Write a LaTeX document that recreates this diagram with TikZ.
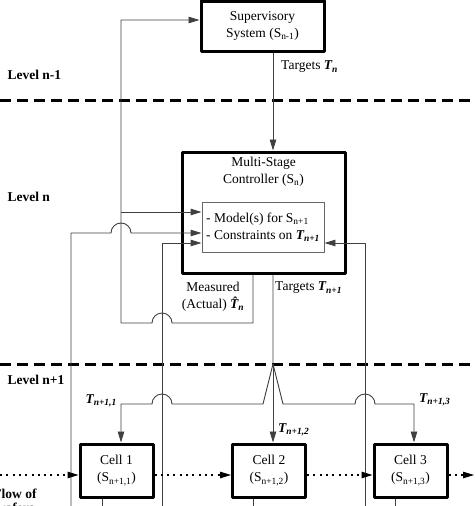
\documentclass[tikz,border=0pt]{standalone}
\usepackage{fontspec}
\setmainfont{Liberation Serif}
\usetikzlibrary{arrows.meta}
\newcommand{\Tb}[1]{\textbf{\textit{T\textsubscript{#1}}}}
\begin{document}
\begin{tikzpicture}[x=1pt, y=-1pt, line join=round, font=\fontsize{13.5}{17}\selectfont,
	blk/.style={draw, line width=3pt, inner sep=0pt, align=center},
	inbox/.style={draw=black!60, line width=0.9pt, inner sep=0pt, align=left},
	wire/.style={draw=black!75, line width=0.9pt},
	arr/.style={wire, -{Triangle[length=11pt,width=6.5pt]}},
	flow/.style={line width=1.1pt, dash pattern=on 2pt off 4.3pt, -{Triangle[length=11pt,width=6.5pt]}},
	lvl/.style={line width=3pt, dash pattern=on 11pt off 6pt},
	lab/.style={font=\fontsize{13.5}{17}\selectfont\bfseries, anchor=west}]
	\useasboundingbox (0,0) rectangle (474,506);
	\clip (0,0) rectangle (474,506);
	% Các mức
	\draw[lvl] (0,100) -- (474,100);
	\draw[lvl] (0,364) -- (474,364);
	\node[lab] (lvlA) at (4,75) {Level n-1};
	\node[lab] (lvlB) at (4,197) {Level n};
	\node[lab] (lvlC) at (4,380) {Level n+1};
	
	% Các khối
	\node[blk, minimum width=123pt, minimum height=50pt] (sup) at (262.5,26) {Supervisory\\System (S\textsubscript{n-1})};
	\node[blk, minimum width=163pt, minimum height=121pt] (ctrl) at (263.5,212.5) {};
	\node[align=center] (ctrlT) at (263.5,172) {Multi-Stage\\Controller (S\textsubscript{n})};
	\node[inbox, minimum width=122pt, minimum height=50pt] (mdl) at (263,227) {- Model(s) for S\textsubscript{n+1}\\- Constraints on \Tb{n+1}};
	\foreach \i/\x in {1/116.5, 2/269, 3/410.5}
		\node[blk, minimum width=73pt, minimum height=53pt] (cell\i) at (\x,470.5) {Cell \i\\(S\textsubscript{n+1,\i})};
	
	% Các làn dọc và hàng ngang
	\coordinate (xa) at (71,0);
	\coordinate (xb) at (121,0);
	\coordinate (xc) at (162,0);
	\coordinate (xd) at (253,0);
	\coordinate (xe) at (273,0);
	\coordinate (xf) at (365,0);
	\coordinate (xg) at (414,0);
	\coordinate (fbt) at (0,20);
	\coordinate (r1) at (0,212);
	\coordinate (r2) at (0,233);
	\coordinate (r3) at (0,243);
	\coordinate (fb) at (0,323);
	\coordinate (pk) at (273,364);
	\coordinate (tl) at (263,404);
	\coordinate (tr) at (283,404);
	\coordinate (bot) at (0,512);
	\coordinate (fin) at (0,475);
	\coordinate (fout) at (474,475);
	\foreach \i/\x in {1/102, 2/253, 3/395}
		\coordinate (m\i) at (\x,512);
	
	% Đường mục tiêu và phản hồi
	\draw[arr] (sup.south -| xe) -- (ctrl.north -| xe);
	\draw[arr] (ctrl.south -| xd) -- (xd |- fb) -- ([xshift=10pt]xc |- fb) arc[start angle=0, end angle=180, radius=10pt] -- (xb |- fb) -- (xb |- fbt) -- (sup.west |- fbt);
	\draw[arr] (xb |- r1) -- (mdl.west |- r1);
	\draw[arr] (xa |- bot) -- (xa |- r2) -- ([xshift=-10pt]xb |- r2) arc[start angle=180, end angle=0, radius=10pt] -- (mdl.west |- r2);
	\draw[arr] (xc |- bot) -- (xc |- r3) -- (mdl.west |- r3);
	\draw[arr] (xf |- bot) -- (xf |- r3) -- (mdl.east |- r3);
	
	% Mục tiêu cho các ô
	\draw[arr] (ctrl.south -| xe) -- (pk) -- (tl) -- ([xshift=10pt]xc |- tl) arc[start angle=0, end angle=180, radius=10pt] -- (xb |- tl) -- (cell1.north -| xb);
	\draw[arr] (pk) -- (tr) -- ([xshift=-10pt]xf |- tr) arc[start angle=180, end angle=0, radius=10pt] -- (xg |- tr) -- (cell3.north -| xg);
	\draw[arr] (pk) -- (cell2.north -| xe);
	\foreach \i in {1,2,3}
		\draw[wire] (cell\i.south -| m\i) -- (m\i);
	
	% Dòng wafer
	\draw[flow] (fin) -- (cell1.west |- fin);
	\draw[flow] (cell1.east |- fin) -- (cell2.west |- fin);
	\draw[flow] (cell2.east |- fin) -- (cell3.west |- fin);
	\draw[flow] (cell3.east |- fin) -- (fout);
	
	% Nhãn
	\node[anchor=west, inner sep=1pt] (tgtA) at (280,67) {Targets \Tb{n}};
	\node[anchor=west, inner sep=1pt] (tgtB) at (274,288) {Targets \Tb{n+1}};
	\node[align=center] (meas) at (213,297) {Measured\\(Actual) \textbf{\textit{\^{T}\textsubscript{n}}}};
	\node[anchor=east, inner sep=1pt] (tA) at (118,401) {\Tb{n+1,1}};
	\node[anchor=west, inner sep=1pt] (tB) at (277,430) {\Tb{n+1,2}};
	\node[anchor=west, inner sep=1pt] (tC) at (418,400) {\Tb{n+1,3}};
	\node[font=\fontsize{13.5}{14}\selectfont\bfseries, align=center, anchor=north] (wfr) at (15,485) {Flow of\\wafers};
\end{tikzpicture}
\end{document}
